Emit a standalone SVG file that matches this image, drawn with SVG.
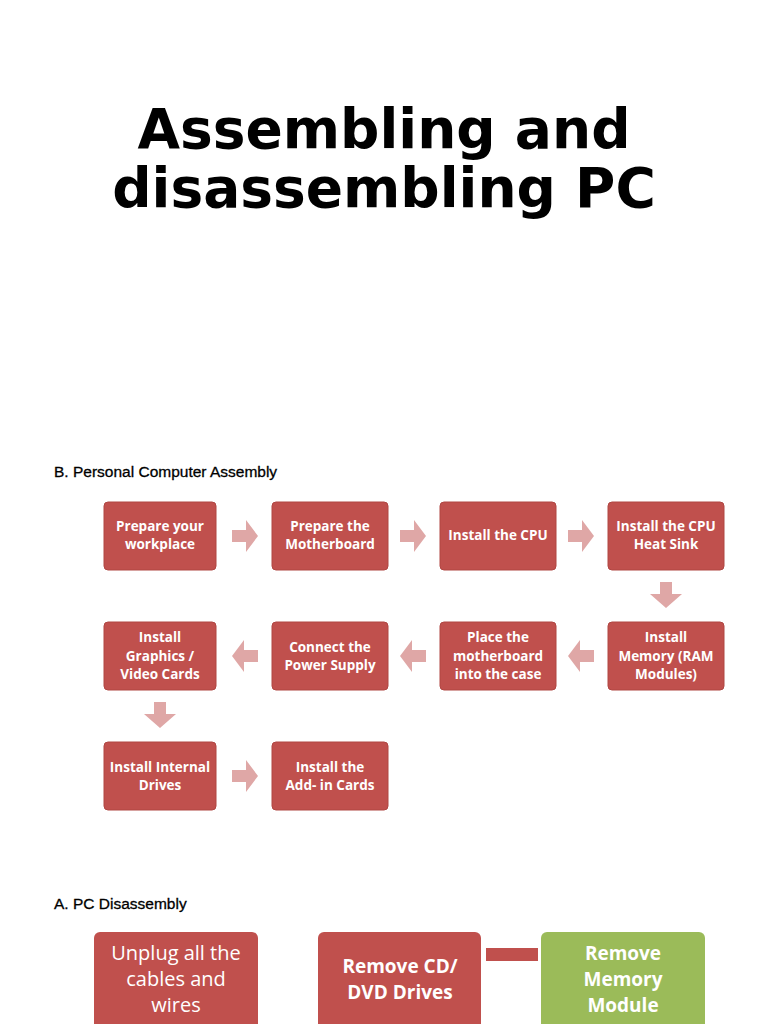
<svg xmlns="http://www.w3.org/2000/svg" width="768" height="1024" viewBox="0 0 768 1024">
<style>
.t{font-family:"DejaVu Sans",sans-serif;font-weight:bold;font-size:55px;fill:#000;text-anchor:middle}
.h{font-family:"Liberation Sans",Arial,sans-serif;font-size:15.5px;fill:#000;stroke:#000;stroke-width:0.3}
.b{fill:#c0504d;stroke:#b04643;stroke-width:1}
.g{fill:#9bbb59}
.l{font-family:"Open Sans","Liberation Sans",sans-serif;font-weight:bold;font-size:13.5px;fill:#fff;text-anchor:middle}
.L{font-family:"Open Sans","Liberation Sans",sans-serif;font-size:20px;fill:#fff;text-anchor:middle}
.LB{font-family:"Open Sans","Liberation Sans",sans-serif;font-weight:bold;font-size:19px;fill:#fff;text-anchor:middle}
.a{fill:#dfa7a6}
</style>
<rect width="768" height="1024" fill="#fff"/>
<text class="t" x="384" y="148">Assembling and</text>
<text class="t" x="384" y="207">disassembling PC</text>
<text class="h" x="54" y="477">B. Personal Computer Assembly</text>
<g id="connectors">
<path class="a" d="M232,530h14v-10l12,16l-12,16v-10h-14z"/>
<path class="a" d="M400,530h14v-10l12,16l-12,16v-10h-14z"/>
<path class="a" d="M568,530h14v-10l12,16l-12,16v-10h-14z"/>
<path class="a" d="M660,582v12h-10l16,14l16-14h-10v-12z"/>
<path class="a" d="M594,650h-14v-10l-12,16l12,16v-10h14z"/>
<path class="a" d="M426,650h-14v-10l-12,16l12,16v-10h14z"/>
<path class="a" d="M258,650h-14v-10l-12,16l12,16v-10h14z"/>
<path class="a" d="M154,702v12h-10l16,14l16-14h-10v-12z"/>
<path class="a" d="M232,770h14v-10l12,16l-12,16v-10h-14z"/>
<rect x="486" y="948" width="52" height="13" fill="#c0504d"/>
</g>
<g id="n1"><rect class="b" x="104" y="502" width="112" height="68" rx="4"/><text class="l" x="160" y="531">Prepare your</text><text class="l" x="160" y="549">workplace</text></g>
<g id="n2"><rect class="b" x="272" y="502" width="116" height="68" rx="4"/><text class="l" x="330" y="531">Prepare the</text><text class="l" x="330" y="549">Motherboard</text></g>
<g id="n3"><rect class="b" x="440" y="502" width="116" height="68" rx="4"/><text class="l" x="498" y="540">Install the CPU</text></g>
<g id="n4"><rect class="b" x="608" y="502" width="116" height="68" rx="4"/><text class="l" x="666" y="531">Install the CPU</text><text class="l" x="666" y="549">Heat Sink</text></g>
<g id="n5"><rect class="b" x="608" y="622" width="116" height="68" rx="4"/><text class="l" x="666" y="642">Install</text><text class="l" x="666" y="661">Memory (RAM</text><text class="l" x="666" y="679">Modules)</text></g>
<g id="n6"><rect class="b" x="440" y="622" width="116" height="68" rx="4"/><text class="l" x="498" y="642">Place the</text><text class="l" x="498" y="661">motherboard</text><text class="l" x="498" y="679">into the case</text></g>
<g id="n7"><rect class="b" x="272" y="622" width="116" height="68" rx="4"/><text class="l" x="330" y="652">Connect the</text><text class="l" x="330" y="670">Power Supply</text></g>
<g id="n8"><rect class="b" x="104" y="622" width="112" height="68" rx="4"/><text class="l" x="160" y="642">Install</text><text class="l" x="160" y="661">Graphics /</text><text class="l" x="160" y="679">Video Cards</text></g>
<g id="n9"><rect class="b" x="104" y="742" width="112" height="68" rx="4"/><text class="l" x="160" y="772">Install Internal</text><text class="l" x="160" y="790">Drives</text></g>
<g id="n10"><rect class="b" x="272" y="742" width="116" height="68" rx="4"/><text class="l" x="330" y="772">Install the</text><text class="l" x="330" y="790">Add- in Cards</text></g>
<text class="h" x="54" y="909">A. PC Disassembly</text>
<g id="d1"><rect x="94" y="932" width="164" height="110" rx="6" fill="#c0504d"/><text class="L" x="176" y="960">Unplug all the</text><text class="L" x="176" y="986">cables and</text><text class="L" x="176" y="1012">wires</text></g>
<g id="d2"><rect x="318" y="932" width="163" height="110" rx="6" fill="#c0504d"/><text class="LB" x="400" y="973">Remove CD/</text><text class="LB" x="400" y="999">DVD Drives</text></g>
<g id="d3"><rect class="g" x="541" y="932" width="164" height="110" rx="6"/><text class="LB" x="623" y="960">Remove</text><text class="LB" x="623" y="986">Memory</text><text class="LB" x="623" y="1012">Module</text></g>
</svg>
